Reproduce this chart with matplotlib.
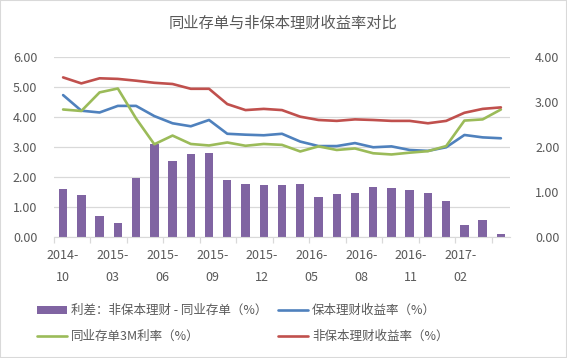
import matplotlib
matplotlib.use('Agg')
import matplotlib.pyplot as plt
import numpy as np
from matplotlib.patches import Rectangle

plt.rcParams['font.family'] = ['Noto Sans CJK SC', 'DejaVu Sans']

spread = [1.06, 0.93, 0.46, 0.31, 1.31, 2.06, 1.68, 1.84, 1.87, 1.26, 1.17, 1.15, 1.15,
          1.17, 0.88, 0.95, 0.97, 1.10, 1.08, 1.04, 0.97, 0.79, 0.26, 0.37, 0.06]
guaranteed = [4.72, 4.20, 4.14, 4.36, 4.36, 4.02, 3.78, 3.68, 3.89, 3.43, 3.40, 3.38, 3.43,
              3.17, 3.02, 3.02, 3.12, 2.98, 3.01, 2.89, 2.86, 2.98, 3.39, 3.31, 3.28]
ncd_3m = [4.24, 4.19, 4.81, 4.94, 3.94, 3.08, 3.37, 3.09, 3.04, 3.14, 3.03, 3.09, 3.06,
          2.84, 3.01, 2.89, 2.94, 2.78, 2.74, 2.80, 2.85, 3.02, 3.87, 3.91, 4.24]
non_guaranteed = [5.31, 5.11, 5.28, 5.26, 5.20, 5.13, 5.09, 4.93, 4.93, 4.42, 4.22, 4.26, 4.22,
                  4.00, 3.89, 3.86, 3.91, 3.89, 3.86, 3.86, 3.78, 3.86, 4.13, 4.26, 4.31]
xlabels = ['2014-\n10', '2015-\n03', '2015-\n06', '2015-\n09', '2015-\n12',
           '2016-\n05', '2016-\n08', '2016-\n11', '2017-\n02']

title = '同业存单与非保本理财收益率对比'
names = ['利差：非保本理财 - 同业存单（%）', '保本理财收益率（%）',
         '同业存单3M利率（%）', '非保本理财收益率（%）']

purple = '#8064A2'
blue = '#4F81BD'
green = '#9BBB59'
red = '#C0504D'
txt = '#595959'
grid = '#D9D9D9'

fig = plt.figure(figsize=(5.67, 3.58), dpi=100)
ax = fig.add_axes([0.0952, 0.339, 0.8043, 0.5026])
ax2 = ax.twinx()

x = np.arange(len(spread))
ax.set_zorder(ax2.get_zorder() + 1)
ax.patch.set_visible(False)

b = ax2.bar(x, spread, width=0.46, color=purple, zorder=2)
l1, = ax.plot(x, guaranteed, color=blue, lw=1.9, solid_capstyle='round')
l2, = ax.plot(x, ncd_3m, color=green, lw=1.9, solid_capstyle='round')
l3, = ax.plot(x, non_guaranteed, color=red, lw=1.9, solid_capstyle='round')

ax.set_xlim(-0.5, len(spread) - 0.5)
ax.set_ylim(0, 6)
ax2.set_ylim(0, 4)
ax.set_yticks(np.arange(0, 7, 1))
ax2.set_yticks(np.arange(0, 5, 1))
ax.yaxis.set_major_formatter(matplotlib.ticker.FormatStrFormatter('%.2f'))
ax2.yaxis.set_major_formatter(matplotlib.ticker.FormatStrFormatter('%.2f'))

for v in range(0, 7):
    ax2.axhline(v * 4 / 6, color=grid, lw=0.9, zorder=0)

label_pos = np.linspace(0, 21.8, len(xlabels))
ax.set_xticks(label_pos)
ax.set_xticklabels(xlabels, linespacing=1.9, multialignment='center')
ax.set_xticks(np.arange(-0.5, len(spread) - 1, 2), minor=True)
ax.tick_params(axis='x', which='major', length=0, pad=9, labelsize=9, colors=txt)
ax.tick_params(axis='x', which='minor', length=4, color=grid, width=0.9)
ax.tick_params(axis='y', length=0, labelsize=9, colors=txt, pad=12)
ax2.tick_params(axis='y', length=0, labelsize=9, colors=txt, pad=18)

for a in (ax, ax2):
    for s in ['top', 'left', 'right']:
        a.spines[s].set_visible(False)
    a.spines['bottom'].set_color(grid)
ax2.spines['bottom'].set_visible(False)

fig.text(0.5, 0.935, title, ha='center', va='center', fontsize=11, color=txt)

leg = fig.legend([b, l2, l1, l3], [names[0], names[2], names[1], names[3]],
                 ncol=2, loc='lower left', bbox_to_anchor=(0.045, 0.01),
                 frameon=False, fontsize=9, handlelength=2.4, handleheight=0.6,
                 columnspacing=0.9, labelspacing=1.05, handletextpad=0.3)
for t in leg.get_texts():
    t.set_color(txt)

fig.patches.append(Rectangle((0, 0), 1, 1, transform=fig.transFigure, fill=False,
                             edgecolor='#D9D9D9', lw=1.5))

fig.savefig('out.png', dpi=100)
